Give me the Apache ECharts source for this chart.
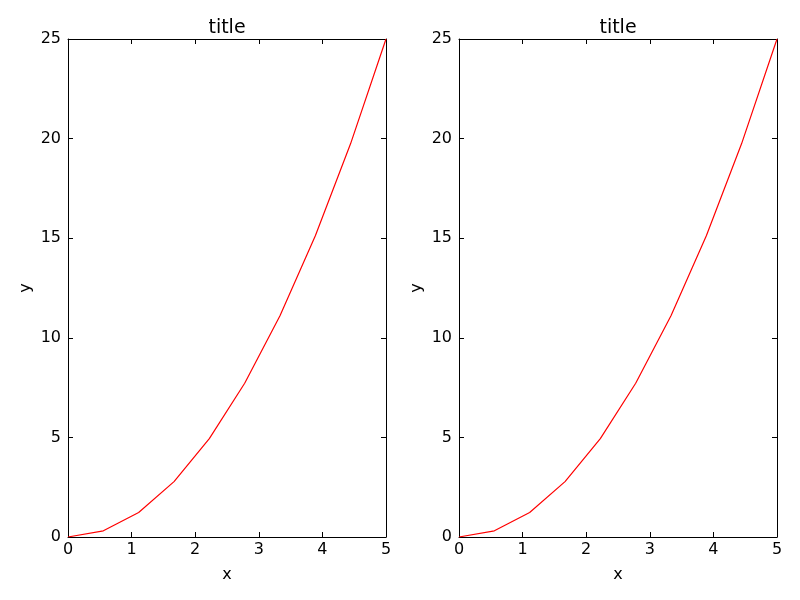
<!DOCTYPE html>
<html><head><meta charset="utf-8">
<script src="https://cdn.jsdelivr.net/npm/echarts@6/dist/echarts.min.js"></script>
<style>html,body{margin:0;padding:0;background:#fff}#c{width:800px;height:600px}</style>
</head><body><div id="c"></div>
<script>
const xValues = [0, 0.556, 1.111, 1.667, 2.222, 2.778, 3.333, 3.889, 4.444, 5];
const yValues = [0, 0.31, 1.23, 2.78, 4.94, 7.72, 11.11, 15.12, 19.75, 25];
const titles = ['title', 'title'];
const xName = 'x', yName = 'y';

const font = 'DejaVu Sans';
const grids = [
  {left: 68, right: 414, top: 39, bottom: 63},
  {left: 459, right: 23, top: 39, bottom: 63}
];
const data = xValues.map((x, i) => [x, yValues[i]]);
const tickStyle = {show: true, inside: true, length: 5, lineStyle: {color: '#000', width: 1}};
const xAxes = [], yAxes = [], series = [], graphics = [];
grids.forEach((g, i) => {
  xAxes.push({type: 'value', gridIndex: i, min: 0, max: 5, interval: 1, position: 'bottom',
    name: xName, nameLocation: 'middle', nameGap: 30,
    nameTextStyle: {fontFamily: font, fontSize: 16, color: '#000'},
    axisLine: {show: true, onZero: false, lineStyle: {color: '#000'}},
    axisTick: tickStyle, splitLine: {show: false},
    axisLabel: {fontFamily: font, fontSize: 16, color: '#000', margin: 5}});
  xAxes.push({type: 'value', gridIndex: i, min: 0, max: 5, interval: 1, position: 'top',
    axisLine: {show: true, onZero: false, lineStyle: {color: '#000'}},
    axisTick: tickStyle, splitLine: {show: false}, axisLabel: {show: false}});
  yAxes.push({type: 'value', gridIndex: i, min: 0, max: 25, interval: 5, position: 'left',
    name: yName, nameLocation: 'middle', nameGap: 34, nameRotate: 90,
    nameTextStyle: {fontFamily: font, fontSize: 16, color: '#000'},
    axisLine: {show: true, onZero: false, lineStyle: {color: '#000'}},
    axisTick: tickStyle, splitLine: {show: false},
    axisLabel: {fontFamily: font, fontSize: 16, color: '#000', margin: 7}});
  yAxes.push({type: 'value', gridIndex: i, min: 0, max: 25, interval: 5, position: 'right',
    axisLine: {show: true, onZero: false, lineStyle: {color: '#000'}},
    axisTick: tickStyle, splitLine: {show: false}, axisLabel: {show: false}});
  series.push({type: 'line', xAxisIndex: i * 2, yAxisIndex: i * 2, data: data,
    showSymbol: false, symbol: 'none', lineStyle: {color: '#ff0000', width: 1.2}, animation: false});
  graphics.push({type: 'text', x: (g.left + (800 - g.right)) / 2, y: 28,
    style: {text: titles[i], font: '19px "DejaVu Sans"', fill: '#000', textAlign: 'center', textVerticalAlign: 'middle'}});
});
const chart = echarts.init(document.getElementById('c'));
chart.setOption({
  animation: false,
  graphic: graphics,
  grid: grids.map(g => Object.assign({show: false, containLabel: false}, g)),
  xAxis: xAxes, yAxis: yAxes, series: series
});
</script></body></html>
